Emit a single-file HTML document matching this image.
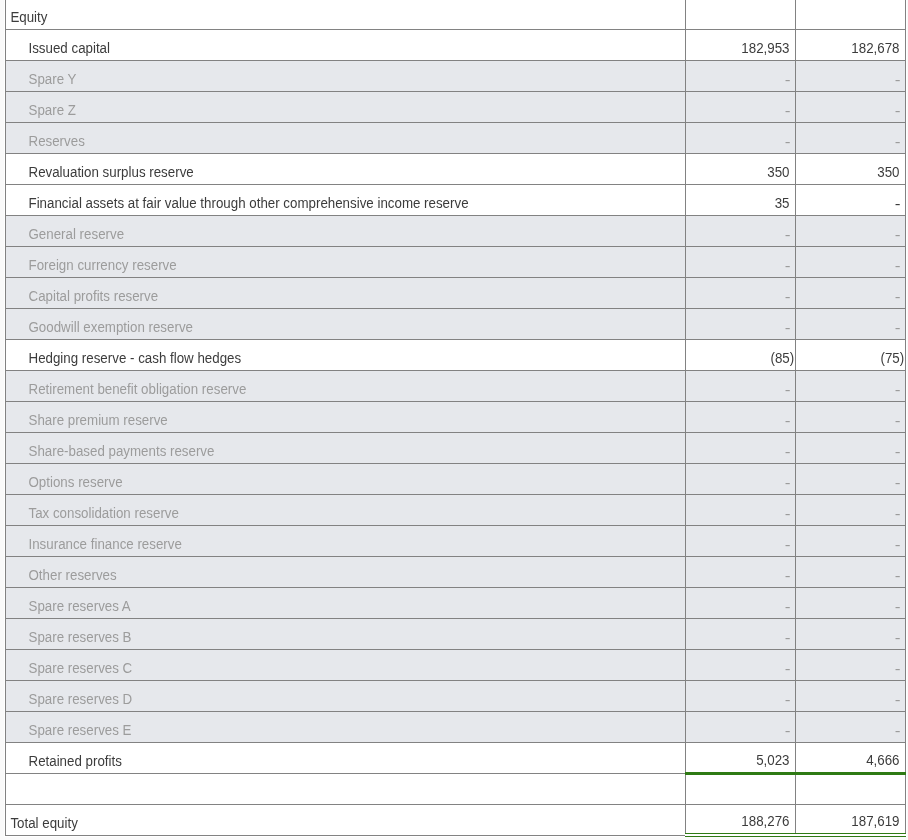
<!DOCTYPE html>
<html><head><meta charset="utf-8"><title>Equity</title>
<style>
html,body{margin:0;padding:0;}
body{width:908px;height:840px;overflow:hidden;background:#fff;position:relative;font-family:"Liberation Sans",sans-serif;font-size:13.333px;color:#3c3c3c;}
.edge{position:absolute;background:#fafafa;}
.tbl{position:absolute;left:5px;top:-1px;width:901px;}
.r{position:absolute;left:0;width:901px;height:31px;box-sizing:border-box;border-bottom:1px solid #828282;background:#fff;}
.r.g{background:#e6e8ec;color:#9c9c9c;}
.c{position:absolute;top:0;height:30px;line-height:15px;white-space:nowrap;box-sizing:border-box;padding-top:11px;transform:scaleY(1.07);transform-origin:0 23px;}
.c1{left:1px;width:679px;padding-left:4.4px;}
.c1.i{padding-left:22.5px;}
.c2{left:681px;width:109px;text-align:right;padding-right:5.5px;}
.c3{left:791px;width:109px;text-align:right;padding-right:5.5px;}
.u1{padding-top:10px;transform-origin:0 22px;}
.u2{padding-top:9px;transform-origin:0 21px;}
.n{margin-right:-4.7px;}
.d{position:relative;top:0.95px;display:inline-block;transform:scaleX(1.3);transform-origin:100% 50%;margin-right:-1px;}
.v{position:absolute;top:0;width:1px;height:840px;background:#828282;}
.gl{position:absolute;background:#2e7a14;}
</style></head><body>
<div class="edge" style="left:0;top:0;width:4px;height:840px"></div>
<div class="edge" style="left:907px;top:0;width:1px;height:840px"></div>
<div class="edge" style="left:0;top:837px;width:908px;height:3px"></div>
<div class="tbl">
<div class="r" style="top:0px"><div class="c c1">Equity</div><div class="c c2"></div><div class="c c3"></div></div>
<div class="r" style="top:31px"><div class="c c1 i">Issued capital</div><div class="c c2">182,953</div><div class="c c3">182,678</div></div>
<div class="r g" style="top:62px"><div class="c c1 i">Spare Y</div><div class="c c2"><span class="d">-</span></div><div class="c c3"><span class="d">-</span></div></div>
<div class="r g" style="top:93px"><div class="c c1 i">Spare Z</div><div class="c c2"><span class="d">-</span></div><div class="c c3"><span class="d">-</span></div></div>
<div class="r g" style="top:124px"><div class="c c1 i">Reserves</div><div class="c c2"><span class="d">-</span></div><div class="c c3"><span class="d">-</span></div></div>
<div class="r" style="top:155px"><div class="c c1 i">Revaluation surplus reserve</div><div class="c c2">350</div><div class="c c3">350</div></div>
<div class="r" style="top:186px"><div class="c c1 i">Financial assets at fair value through other comprehensive income reserve</div><div class="c c2">35</div><div class="c c3"><span class="d">-</span></div></div>
<div class="r g" style="top:217px"><div class="c c1 i">General reserve</div><div class="c c2"><span class="d">-</span></div><div class="c c3"><span class="d">-</span></div></div>
<div class="r g" style="top:248px"><div class="c c1 i">Foreign currency reserve</div><div class="c c2"><span class="d">-</span></div><div class="c c3"><span class="d">-</span></div></div>
<div class="r g" style="top:279px"><div class="c c1 i">Capital profits reserve</div><div class="c c2"><span class="d">-</span></div><div class="c c3"><span class="d">-</span></div></div>
<div class="r g" style="top:310px"><div class="c c1 i">Goodwill exemption reserve</div><div class="c c2"><span class="d">-</span></div><div class="c c3"><span class="d">-</span></div></div>
<div class="r" style="top:341px"><div class="c c1 i">Hedging reserve - cash flow hedges</div><div class="c c2"><span class="n">(85)</span></div><div class="c c3"><span class="n">(75)</span></div></div>
<div class="r g" style="top:372px"><div class="c c1 i">Retirement benefit obligation reserve</div><div class="c c2"><span class="d">-</span></div><div class="c c3"><span class="d">-</span></div></div>
<div class="r g" style="top:403px"><div class="c c1 i">Share premium reserve</div><div class="c c2"><span class="d">-</span></div><div class="c c3"><span class="d">-</span></div></div>
<div class="r g" style="top:434px"><div class="c c1 i">Share-based payments reserve</div><div class="c c2"><span class="d">-</span></div><div class="c c3"><span class="d">-</span></div></div>
<div class="r g" style="top:465px"><div class="c c1 i">Options reserve</div><div class="c c2"><span class="d">-</span></div><div class="c c3"><span class="d">-</span></div></div>
<div class="r g" style="top:496px"><div class="c c1 i">Tax consolidation reserve</div><div class="c c2"><span class="d">-</span></div><div class="c c3"><span class="d">-</span></div></div>
<div class="r g" style="top:527px"><div class="c c1 i">Insurance finance reserve</div><div class="c c2"><span class="d">-</span></div><div class="c c3"><span class="d">-</span></div></div>
<div class="r g" style="top:558px"><div class="c c1 i">Other reserves</div><div class="c c2"><span class="d">-</span></div><div class="c c3"><span class="d">-</span></div></div>
<div class="r g" style="top:589px"><div class="c c1 i">Spare reserves A</div><div class="c c2"><span class="d">-</span></div><div class="c c3"><span class="d">-</span></div></div>
<div class="r g" style="top:620px"><div class="c c1 i">Spare reserves B</div><div class="c c2"><span class="d">-</span></div><div class="c c3"><span class="d">-</span></div></div>
<div class="r g" style="top:651px"><div class="c c1 i">Spare reserves C</div><div class="c c2"><span class="d">-</span></div><div class="c c3"><span class="d">-</span></div></div>
<div class="r g" style="top:682px"><div class="c c1 i">Spare reserves D</div><div class="c c2"><span class="d">-</span></div><div class="c c3"><span class="d">-</span></div></div>
<div class="r g" style="top:713px"><div class="c c1 i">Spare reserves E</div><div class="c c2"><span class="d">-</span></div><div class="c c3"><span class="d">-</span></div></div>
<div class="r" style="top:744px"><div class="c c1 i">Retained profits</div><div class="c c2 u1">5,023</div><div class="c c3 u1">4,666</div></div>
<div class="r" style="top:775px"><div class="c c1"></div><div class="c c2"></div><div class="c c3"></div></div>
<div class="r" style="top:806px"><div class="c c1">Total equity</div><div class="c c2 u2">188,276</div><div class="c c3 u2">187,619</div></div>
</div>
<div style="position:absolute;left:685px;top:834px;width:221px;height:2px;background:#fff"></div>
<div class="v" style="left:5px;height:836px"></div>
<div class="v" style="left:685px;height:833px"></div>
<div class="v" style="left:795px;height:833px"></div>
<div class="v" style="left:905px;height:833px"></div>
<div class="gl" style="left:685px;top:772px;width:221px;height:3px"></div>
<div class="gl" style="left:685px;top:833px;width:221px;height:1px"></div>
<div class="gl" style="left:685px;top:836px;width:221px;height:1px"></div>
</body></html>
